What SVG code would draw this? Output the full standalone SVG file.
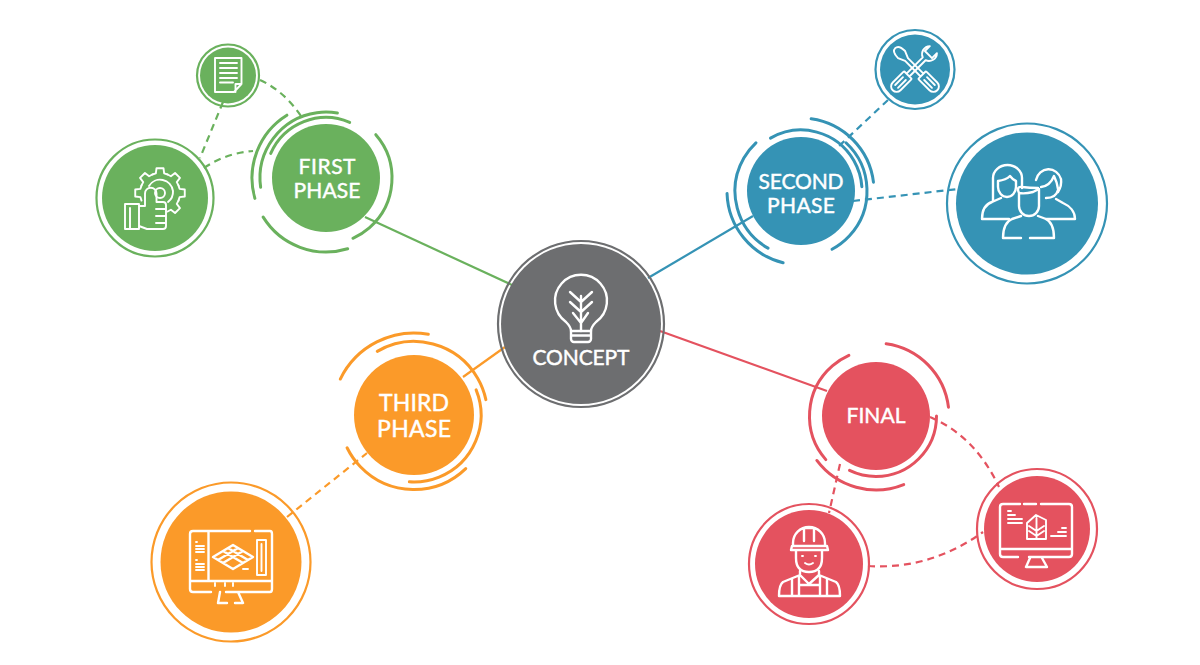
<svg xmlns="http://www.w3.org/2000/svg" width="1200" height="665" viewBox="0 0 1200 665">
<style>
.g{--c:#6ab15d}.b{--c:#3593b5}.o{--c:#fb9a29}.r{--c:#e4525f}.k{--c:#6d6e70}
.disc{fill:var(--c);stroke:none}
.ring{fill:none;stroke:var(--c);stroke-width:2.200}
.arc{fill:none;stroke:var(--c);stroke-width:3;stroke-linecap:round}
.solid{fill:none;stroke:var(--c);stroke-width:2.200}
.dash{fill:none;stroke:var(--c);stroke-width:2.200;stroke-dasharray:7 5}
.ico{fill:none;stroke:#fff;stroke-width:2.400;stroke-linecap:round;stroke-linejoin:round}
.thin{stroke-width:1.900}
text{font-family:"Lato","Open Sans","Liberation Sans",sans-serif;font-weight:400;fill:#fff;stroke:#fff;stroke-width:.45;text-anchor:middle;font-size:21px}
</style>
<defs>
<path id="tooth" d="M18.48 -7.65L19.56 -4.16L24.76 -3.48L24.76 3.48L19.56 4.16L18.48 7.65"/>
</defs>
<rect width="1200" height="665" fill="#fff"/>
<g id="connectors">
<path class="solid g" d="M365 217L512 285"/>
<path class="solid b" d="M753 216L648 278"/>
<path class="solid o" d="M463 377L505 347"/>
<path class="solid r" d="M660 331L827 391"/>
<path class="dash g" d="M223 102L200 158"/>
<path class="dash g" d="M260 80Q284 91 301 116"/>
<path class="dash g" d="M204 168Q226 153 253 151"/>
<path class="dash b" d="M888 100L838 147"/>
<path class="dash b" d="M853 201L958 189"/>
<path class="dash o" d="M287 517L367 453"/>
<path class="dash r" d="M930 417Q975 436 999 487"/>
<path class="dash r" d="M840 464L829 513"/>
<path class="dash r" d="M868 566Q930 570 983 532"/>
</g>
<g id="first-phase" class="g">
<circle class="disc" cx="326" cy="178" r="54"/>
<circle class="arc" cx="326" cy="178" r="66" pathLength="360" stroke-dasharray="107 720" transform="rotate(-41 326 178)"/>
<circle class="arc" cx="326" cy="178" r="74" pathLength="360" stroke-dasharray="75 720" transform="rotate(73 326 178)"/>
<circle class="arc" cx="326" cy="178" r="74" pathLength="360" stroke-dasharray="74 720" transform="rotate(164 326 178)"/>
<circle class="arc" cx="326" cy="178" r="66" pathLength="360" stroke-dasharray="108 720" transform="rotate(172 326 178)"/>
<circle class="arc" cx="326" cy="178" r="60.500" pathLength="360" stroke-dasharray="89 720" transform="rotate(204 326 178)"/>
<text x="327" y="174" textLength="57" lengthAdjust="spacing">FIRST</text>
<text x="327" y="198" textLength="67" lengthAdjust="spacing">PHASE</text>
</g>
<g id="second-phase" class="b">
<circle class="disc" cx="801" cy="191" r="54"/>
<circle class="arc" cx="801" cy="191" r="73" pathLength="360" stroke-dasharray="75 720" transform="rotate(278 801 191)"/>
<circle class="arc" cx="801" cy="191" r="61" pathLength="360" stroke-dasharray="116 720" transform="rotate(240 801 191)"/>
<circle class="arc" cx="801" cy="191" r="66" pathLength="360" stroke-dasharray="109 720" transform="rotate(313 801 191)"/>
<circle class="arc" cx="801" cy="191" r="66" pathLength="360" stroke-dasharray="107 720" transform="rotate(120 801 191)"/>
<circle class="arc" cx="801" cy="191" r="74" pathLength="360" stroke-dasharray="74 720" transform="rotate(104 801 191)"/>
<text x="801" y="189" textLength="85" lengthAdjust="spacing">SECOND</text>
<text x="801" y="213" textLength="68" lengthAdjust="spacing">PHASE</text>
</g>
<g id="third-phase" class="o">
<circle class="disc" cx="414" cy="415" r="60"/>
<circle class="arc" cx="414" cy="415" r="82" pathLength="360" stroke-dasharray="74 720" transform="rotate(206 414 415)"/>
<circle class="arc" cx="414" cy="415" r="73.500" pathLength="360" stroke-dasharray="108 720" transform="rotate(240 414 415)"/>
<circle class="arc" cx="414" cy="415" r="67" pathLength="360" stroke-dasharray="116 720" transform="rotate(338 414 415)"/>
<circle class="arc" cx="414" cy="415" r="74.500" pathLength="360" stroke-dasharray="108 720" transform="rotate(46 414 415)"/>
<text x="414" y="411" style="font-size:23px" textLength="70" lengthAdjust="spacing">THIRD</text>
<text x="414" y="437" style="font-size:23px" textLength="74" lengthAdjust="spacing">PHASE</text>
</g>
<g id="final" class="r">
<circle class="disc" cx="876" cy="416" r="54"/>
<circle class="arc" cx="876" cy="416" r="73" pathLength="360" stroke-dasharray="75 720" transform="rotate(278 876 416)"/>
<circle class="arc" cx="876" cy="416" r="66.500" pathLength="360" stroke-dasharray="107 720" transform="rotate(139 876 416)"/>
<circle class="arc" cx="876" cy="416" r="60.500" pathLength="360" stroke-dasharray="116 720" transform="rotate(0 876 416)"/>
<circle class="arc" cx="876" cy="416" r="74" pathLength="360" stroke-dasharray="75 720" transform="rotate(68 876 416)"/>
<text x="876" y="423" textLength="59" lengthAdjust="spacing">FINAL</text>
</g>
<g id="concept" class="k">
<circle class="disc" cx="581" cy="324" r="80"/>
<circle class="ring" cx="581" cy="324" r="83"/>
<path class="ico" d="M566 322A26 26 0 1 1 596 322C593 325 591 327 591 331H571C571 327 569 325 566 322Z"/>
<path class="ico" d="M571 331V339A3 3 0 0 0 574 342H588A3 3 0 0 0 591 339V331M571 335.500H591"/>
<path class="ico" d="M581 296V331M570 292L581 302L592 292M570 302L581 312L592 302M573 313L581 323L588 313"/>
<text x="581" y="365" textLength="97" lengthAdjust="spacing">CONCEPT</text>
</g>
<g id="document" class="g">
<circle class="disc" cx="228" cy="75.500" r="28"/>
<circle class="ring" cx="228" cy="75.500" r="31"/>
<path class="ico thin" d="M215 58H241.500V84L234 92H215ZM241.500 84H235.500V92"/>
<path class="ico thin" d="M220 63H237M220 68H237M220 73H237M220 78H237M220 82.500H233"/>
</g>
<g id="gear-hand" class="g">
<circle class="disc" cx="155" cy="198" r="53"/>
<circle class="ring" cx="155" cy="198" r="58.500"/>
<g class="ico thin" transform="translate(160 193)">
<use href="#tooth" transform="rotate(0)"/><use href="#tooth" transform="rotate(-45)"/><use href="#tooth" transform="rotate(-90)"/><use href="#tooth" transform="rotate(-135)"/><use href="#tooth" transform="rotate(180)"/><use href="#tooth" transform="rotate(45)"/>
<circle r="5"/>
<path d="M-11 -7A13 13 0 0 1 13 -2A13 13 0 0 1 8 9"/>
</g>
<path class="ico thin" d="M125 204H139V229H125ZM130 208V229M139 206H145V193.500A5.500 5.500 0 0 1 156.500 193.500V202H163Q166 202 166 205V226Q166 229 163 229H147L139 226M156 209H166M156 216H166M156 223H166"/>
</g>
<g id="tools" class="b">
<circle class="disc" cx="915" cy="69.500" r="35"/>
<circle class="ring" cx="915" cy="69.500" r="39.500"/>
<g class="ico thin" transform="translate(915 68) rotate(45)">
<path d="M-2 10V-13A8 8 0 0 1 -5 -26V-19H5V-26A8 8 0 0 1 2 -13V10M-5 10H5Q5.500 10 5.500 11V26A4.500 4.500 0 0 1 -5.500 26V11Q-5.500 10 -5 10ZM-2 15V26M2 15V26"/>
</g>
<g class="ico thin" transform="translate(915 68) rotate(-45)">
<path d="M-2 10V-12L-5 -19Q-5 -28 0 -28Q5 -28 5 -19L2 -12V10M-5 10H5Q5.500 10 5.500 11V26A4.500 4.500 0 0 1 -5.500 26V11Q-5.500 10 -5 10ZM-2 15V26M2 15V26"/>
</g>
</g>
<g id="people" class="b">
<circle class="disc" cx="1027" cy="203.500" r="71"/>
<circle class="ring" cx="1027" cy="203.500" r="80"/>
<path class="ico" d="M993 201V178A14.500 13 0 0 1 1022 178V188M998 181V187A9 10 0 0 0 1016 187V181Q1013 180 1010 176Q1006 180 998 181ZM982 219C982 209 986 204 992 202L1001 198M982 219H1009"/>
<path class="ico" d="M1036 180A13 14 0 0 1 1061 179Q1062 186 1058 192M1041 187Q1050 186 1054 176Q1057 182 1058 189M1058 190Q1056 198 1046 198M1056 199L1063 203C1070 206 1075 212 1075 219H1046"/>
<path class="ico" d="M1019 193V206A10 10 0 0 0 1039 206V189L1033 192Q1025 194 1019 193Q1016 186 1022 187Q1030 188 1038 188M1021 216L1012 219C1005 222 1003 230 1003 238H1021M1038 216L1046 219C1052 222 1054 230 1054 238H1030"/>
</g>
<g id="design-monitor" class="o">
<circle class="disc" cx="231" cy="562" r="70.500"/>
<circle class="ring" cx="231" cy="562" r="79.500"/>
<path class="ico" d="M250 531H193Q190 531 190 534V589Q190 592 193 592H211M226 592H270Q272 592 272 589V534Q272 531 270 531H255M208.500 531V580M190 581H272M220 592L218 603H227M238 592L243 603H235"/>
<path class="ico" d="M233 545L253 557L233 569L213 557ZM223 551L243 563M228 548L248 560M243 551L223 563M238 548L218 560"/>
<path class="ico thin" d="M257 540H266V575H257ZM261.500 544V571"/>
<path class="ico thin" d="M196 542H197M196 546H204M196 549H204M196 552H204M196 560H197M196 564H204M196 567H204M196 570H204M215 583V586M225 583V586M233 583V586M243 569H248"/>
</g>
<g id="worker" class="r">
<circle class="disc" cx="809" cy="564" r="54"/>
<circle class="ring" cx="809" cy="564" r="60"/>
<path class="ico" d="M793 546V543A16 16 0 0 1 825 543V546M792 546H827L828 550H791ZM804 528V541M814 528V541M804 528H814"/>
<path class="ico" d="M796 551V558Q796 572 809 572Q822 572 822 558V551"/>
<path class="ico thin" d="M802 556H803M815 556H816M805 563Q809 566 813 563"/>
<path class="ico" d="M800 571V575L783 582Q779 585 779 596H840Q840 585 836 582L819 575V571M800 575L809 584L819 575M792 579V596M827 579V596M799 577V596M820 577V596M799 585H820"/>
</g>
<g id="building-monitor" class="r">
<circle class="disc" cx="1037" cy="529" r="53"/>
<circle class="ring" cx="1037" cy="529" r="60"/>
<path class="ico" d="M1020 504H1003Q1000 504 1000 507V554Q1000 557 1003 557H1018M1029 557H1069Q1072 557 1072 554V507Q1072 504 1069 504H1041M1024 504H1036M1000 549H1072M1030 558L1026 567H1047L1042 558"/>
<path class="ico thin" d="M1027 523L1036 515L1046 520V539H1027ZM1036.500 518V539M1029 526L1036.500 531L1044 526M1029 531L1036.500 536L1044 531"/>
<path class="ico thin" d="M1008 511H1011M1008 515H1015M1008 519H1022M1008 523H1022M1062 528H1066M1058 532H1066M1051 536H1066"/>
</g>
</svg>
